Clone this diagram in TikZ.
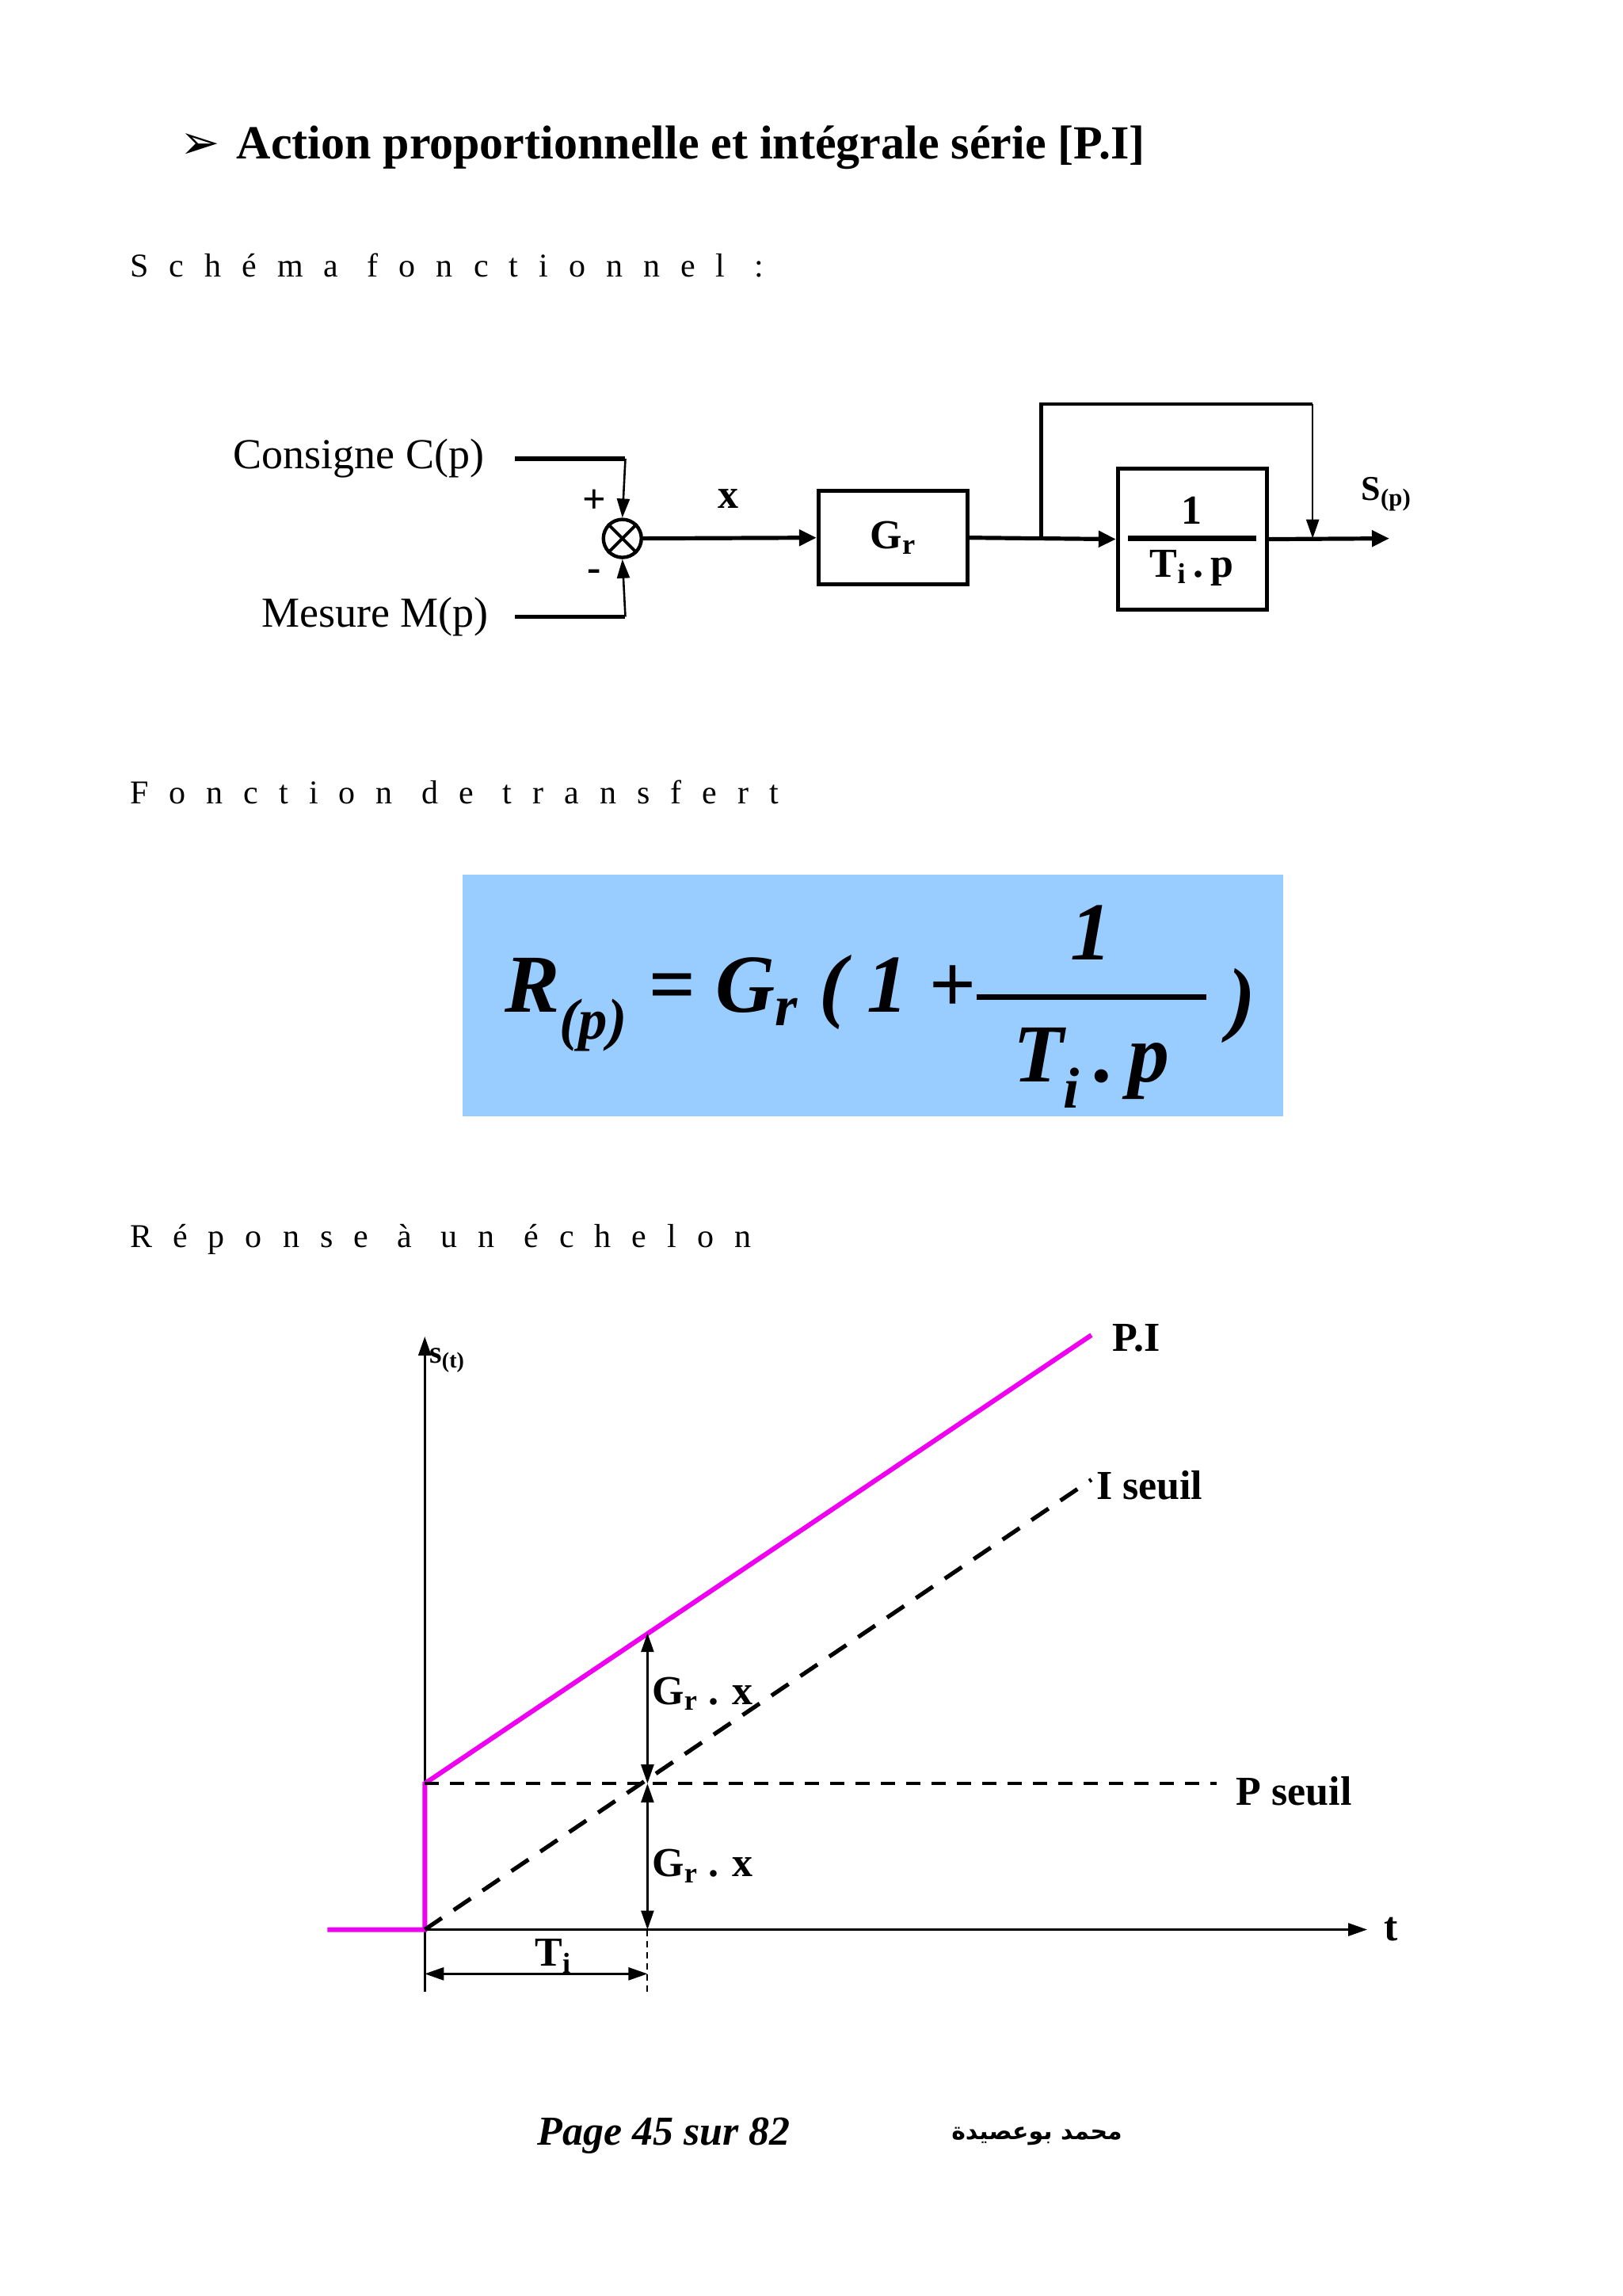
\documentclass[tikz,border=0pt]{standalone}
\usepackage{fontspec}
\setmainfont{Liberation Serif}
\newfontfamily\arab[Script=Arabic]{DejaVu Sans}
\usetikzlibrary{arrows.meta}
\definecolor{bluebg}{RGB}{153,204,255}
\definecolor{pink}{RGB}{240,0,240}
\TeXXeTstate=1
\begin{document}
\begin{tikzpicture}[x=0.931pt,y=-0.931pt,
  blk/.style={draw,line width=2.6pt,minimum width=94pt,inner sep=0},
  wire/.style={line width=2.6pt},
  arr/.style={wire,-{Triangle[length=11pt,width=10pt]}},
  thinarr/.style={line width=1.3pt,-{Triangle[length=12pt,width=8pt]}},
  lab/.style={font=\fontsize{26}{28}\selectfont\bfseries,inner sep=1pt},
  head/.style={font=\fontsize{21}{24}\selectfont\addfontfeatures{LetterSpace=62},anchor=west,inner sep=0}]
\useasboundingbox (0,0) rectangle (1100,1556.4);
% title
\node[anchor=west,inner sep=0,font=\fontsize{30}{34}\selectfont\bfseries] (title) at (122,100) {\fontspec{DejaVu Sans}\char"27A2\ \normalfont\bfseries Action proportionnelle et intégrale série [P.I]};
\node[head] (h1) at (88,180) {Schéma fonctionnel :};
\node[head] (h2) at (88,537) {Fonction de transfert};
\node[head] (h3) at (88,840) {Réponse à un échelon};
% block diagram
\node[font=\fontsize{27}{30}\selectfont,anchor=east] (cons) at (332,311) {Consigne C(p)};
\node[font=\fontsize{27}{30}\selectfont,anchor=east] (mes) at (335,418) {Mesure M(p)};
\node[draw,circle,line width=2.2pt,minimum size=24pt,inner sep=0] (sum) at (422,365) {};
\draw[line width=2pt] (sum.north west) -- (sum.south east) (sum.north east) -- (sum.south west);
\coordinate (c1) at (349,311); \coordinate (c2) at (424,311);
\coordinate (m1) at (349,418); \coordinate (m2) at (424,418);
\draw[wire] (c1) -- (c2);
\draw[thinarr] (c2) -- (sum.north);
\draw[wire] (m1) -- (m2);
\draw[thinarr] (m2) -- (sum.south);
\node[lab] (plus) at (403,340) {+};
\node[lab] (minus) at (403,390) {-};
\node[lab] (xl) at (494,338) {x};
\node[blk,minimum height=59pt] (gr) at (605.5,364.5) {\fontsize{26}{28}\selectfont\bfseries G\textsubscript{r}};
\node[blk,minimum height=89pt] (ti) at (808.5,365.5) {};
\node[lab] (one) at (808,346) {1};
\node[lab] (tip) at (808,385) {T\textsubscript{i}\,.\,p};
\draw[line width=3.5pt] (765,365) -- (852,365);
\draw[arr] (sum.east) -- (gr.west);
\coordinate (br) at (706,365);
\coordinate (t1) at (706,274); \coordinate (t2) at (890,274);
\coordinate (sj) at (890,365); \coordinate (out) at (942,365);
\draw[arr] (gr.east) -- (ti.west);
\draw[line width=2.2pt] (br) -- (t1) -- (t2);
\draw[thinarr] (t2) -- (sj);
\draw[arr] (ti.east) -- (out);
\node[lab,font=\fontsize{22}{24}\selectfont\bfseries] (sp) at (940,335) {S\textsubscript{(p)}};
% transfer function
\node[fill=bluebg,minimum width=518pt,minimum height=152.5pt,inner sep=0] (tf) at (592,675) {};
\node[font=\fontsize{52}{56}\selectfont\bfseries\itshape,anchor=west,inner sep=0] (tfa) at (342,680) {R\textsubscript{(p)} = G\textsubscript{r} ( 1 +};
\node[font=\fontsize{52}{56}\selectfont\bfseries\itshape,inner sep=0] (tfn) at (740,632) {1};
\node[font=\fontsize{52}{56}\selectfont\bfseries\itshape,inner sep=0] (tfd) at (740,724) {T\textsubscript{i}\,.\,p};
\draw[line width=3.5pt] (662,676) -- (818,676);
\node[font=\fontsize{52}{56}\selectfont\bfseries\itshape,inner sep=0] (tfc) at (842,682) {)};
% graph
\coordinate (o) at (288,1308);
\coordinate (yb) at (288,1350); \coordinate (yt) at (288,906);
\coordinate (tend) at (927,1308);
\draw[line width=1.4pt,-{Triangle[length=12pt,width=8pt]}] (yb) -- (yt);
\draw[line width=1.4pt,-{Triangle[length=12pt,width=8pt]}] (o) -- (tend);
\node[lab,font=\fontsize{20}{22}\selectfont\bfseries,anchor=west] (sl) at (290,922) {s\textsubscript{(t)}};
\node[lab] (tl) at (943,1308) {t};
\coordinate (pk0) at (222,1308); \coordinate (ps) at (288,1209); \coordinate (pe) at (740,905);
\draw[pink,line width=3pt] (pk0) -- (o) -- (ps) -- (pe);
\node[lab,anchor=west] (pil) at (753,907) {P.I};
\coordinate (ie) at (740,1003);
\draw[line width=2.6pt,dash pattern=on 13pt off 9pt] (o) -- (ie);
\node[lab,anchor=west] (isl) at (742,1007) {I seuil};
\coordinate (pse) at (825,1209);
\draw[line width=2pt,dash pattern=on 9pt off 7pt] (ps) -- (pse);
\node[lab,anchor=west] (psl) at (837,1214) {P seuil};
\coordinate (a1) at (439,1107); \coordinate (a2) at (439,1209); \coordinate (a3) at (439,1308);
\draw[thinarr,{Triangle[length=12pt,width=8pt]}-{Triangle[length=12pt,width=8pt]}] (a1) -- (a2);
\draw[thinarr,{Triangle[length=12pt,width=8pt]}-{Triangle[length=12pt,width=8pt]}] (a2) -- (a3);
\node[lab,anchor=west] (g1) at (441,1148) {G\textsubscript{r} . x};
\node[lab,anchor=west] (g2) at (441,1265) {G\textsubscript{r} . x};
\coordinate (d1) at (439,1350);
\draw[line width=1pt,dash pattern=on 4pt off 3pt] (a3) -- (d1);
\coordinate (ti1) at (288,1338); \coordinate (ti2) at (439,1338);
\draw[thinarr,{Triangle[length=12pt,width=8pt]}-{Triangle[length=12pt,width=8pt]}] (ti1) -- (ti2);
\node[lab] (til) at (375,1326) {T\textsubscript{i}};
% footer
\node[font=\fontsize{26}{28}\selectfont\bfseries\itshape] (page) at (450,1448) {Page 45 sur 82};
\node[font=\fontsize{15}{18}\selectfont\arab\bfseries] (name) at (703,1448) {\beginR محمد بوعصيدة\endR};
\end{tikzpicture}
\end{document}
